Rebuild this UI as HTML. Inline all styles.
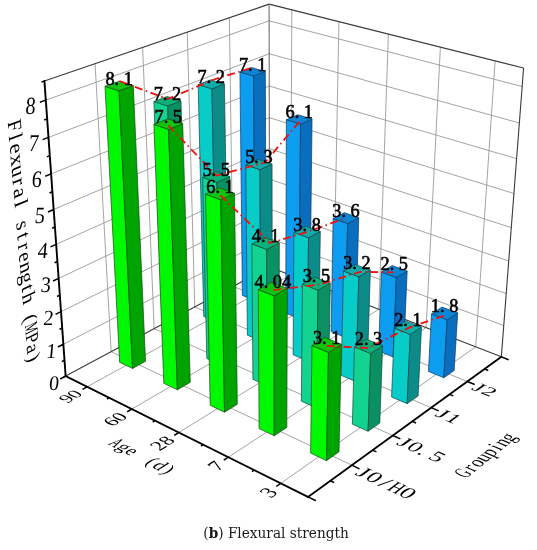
<!DOCTYPE html>
<html><head><meta charset="utf-8"><style>html,body{margin:0;padding:0;background:#fff;width:537px;height:550px;overflow:hidden}svg{display:block}.t{font-family:"Liberation Serif",serif}.c{font-family:"DejaVu Serif","Liberation Serif",serif}</style></head>
<body><svg width="537" height="550" viewBox="0 0 537 550"><g stroke="#9a9a9a" stroke-width="0.9"><line x1="63.37" y1="344.23" x2="269.54" y2="238.18" /><line x1="269.54" y1="238.18" x2="503.75" y2="325.58" /><line x1="61.02" y1="311.66" x2="269.48" y2="208.92" /><line x1="269.48" y1="208.92" x2="506.21" y2="293.64" /><line x1="58.63" y1="278.37" x2="269.42" y2="179.09" /><line x1="269.42" y1="179.09" x2="508.72" y2="261" /><line x1="56.18" y1="244.33" x2="269.37" y2="148.68" /><line x1="269.37" y1="148.68" x2="511.29" y2="227.64" /><line x1="53.67" y1="209.51" x2="269.31" y2="117.67" /><line x1="269.31" y1="117.67" x2="513.92" y2="193.54" /><line x1="51.11" y1="173.88" x2="269.25" y2="86.04" /><line x1="269.25" y1="86.04" x2="516.61" y2="158.68" /><line x1="48.48" y1="137.42" x2="269.18" y2="53.78" /><line x1="269.18" y1="53.78" x2="519.35" y2="123.01" /><line x1="45.8" y1="100.1" x2="269.12" y2="20.85" /><line x1="269.12" y1="20.85" x2="522.16" y2="86.53" /><line x1="111.18" y1="351.71" x2="95.09" y2="63.74" /><line x1="351.81" y1="465.19" x2="111.18" y2="351.71" /><line x1="154.14" y1="328.71" x2="142.63" y2="47.46" /><line x1="392.78" y1="435.51" x2="154.14" y2="328.71" /><line x1="194.74" y1="306.97" x2="187.31" y2="32.15" /><line x1="431.21" y1="407.67" x2="194.74" y2="306.97" /><line x1="233.17" y1="286.4" x2="229.39" y2="17.74" /><line x1="467.33" y1="381.5" x2="233.17" y2="286.4" /><line x1="475.67" y1="346.89" x2="495.13" y2="60.83" /><line x1="280.76" y1="483.3" x2="475.67" y2="346.89" /><line x1="426.12" y1="327.66" x2="440.4" y2="47.1" /><line x1="228.4" y1="457.2" x2="426.12" y2="327.66" /><line x1="378.85" y1="309.3" x2="388.4" y2="34.06" /><line x1="178.82" y1="432.49" x2="378.85" y2="309.3" /><line x1="333.68" y1="291.77" x2="338.93" y2="21.66" /><line x1="131.8" y1="409.05" x2="333.68" y2="291.77" /><line x1="290.49" y1="275.01" x2="291.82" y2="9.84" /><line x1="87.15" y1="386.8" x2="290.49" y2="275.01" /></g><g stroke="#3a3a3a" stroke-width="1.1"><line x1="44.43" y1="81.1" x2="269.09" y2="4.14" /><line x1="269.09" y1="4.14" x2="523.59" y2="67.97" /><line x1="523.59" y1="67.97" x2="501.34" y2="356.85" /><line x1="65.66" y1="376.08" x2="269.59" y2="266.89" /><line x1="269.59" y1="266.89" x2="501.34" y2="356.85" /></g><line x1="269.09" y1="4.14" x2="269.59" y2="266.89" stroke="#6e6e6e" stroke-width="1.1"/><g stroke="#000" stroke-width="1.9" stroke-linecap="square"><line x1="65.66" y1="376.08" x2="44.43" y2="81.1" /><line x1="65.66" y1="376.08" x2="308.05" y2="496.9" /><line x1="308.05" y1="496.9" x2="501.34" y2="356.85" /></g><g stroke="#000" stroke-width="1.5"><line x1="65.66" y1="376.08" x2="60.26" y2="378.98" /><line x1="64.52" y1="360.24" x2="61.81" y2="361.67" /><line x1="63.37" y1="344.23" x2="57.9" y2="347.04" /><line x1="62.2" y1="328.03" x2="59.45" y2="329.42" /><line x1="61.02" y1="311.66" x2="55.49" y2="314.39" /><line x1="59.83" y1="295.11" x2="57.05" y2="296.45" /><line x1="58.63" y1="278.37" x2="53.02" y2="281.01" /><line x1="57.41" y1="261.45" x2="54.59" y2="262.74" /><line x1="56.18" y1="244.33" x2="50.5" y2="246.88" /><line x1="54.93" y1="227.02" x2="52.08" y2="228.26" /><line x1="53.67" y1="209.51" x2="47.92" y2="211.96" /><line x1="52.4" y1="191.8" x2="49.51" y2="192.99" /><line x1="51.11" y1="173.88" x2="45.28" y2="176.23" /><line x1="49.8" y1="155.76" x2="46.87" y2="156.9" /><line x1="48.48" y1="137.42" x2="42.57" y2="139.66" /><line x1="47.15" y1="118.87" x2="44.18" y2="119.96" /><line x1="45.8" y1="100.1" x2="39.81" y2="102.22" /><line x1="44.43" y1="81.1" x2="41.42" y2="82.13" /><line x1="280.76" y1="483.3" x2="276.19" y2="486.5" /><line x1="254.22" y1="470.07" x2="251.92" y2="471.62" /><line x1="228.4" y1="457.2" x2="223.79" y2="460.23" /><line x1="203.28" y1="444.68" x2="200.97" y2="446.15" /><line x1="178.82" y1="432.49" x2="174.17" y2="435.36" /><line x1="155.01" y1="420.62" x2="152.68" y2="422.01" /><line x1="131.8" y1="409.05" x2="127.13" y2="411.77" /><line x1="109.19" y1="397.78" x2="106.85" y2="399.11" /><line x1="87.15" y1="386.8" x2="82.46" y2="389.38" /><line x1="65.66" y1="376.08" x2="63.31" y2="377.34" /><line x1="308.05" y1="496.9" x2="315.83" y2="500.78" /><line x1="330.3" y1="480.78" x2="334.16" y2="482.65" /><line x1="351.81" y1="465.19" x2="359.51" y2="468.82" /><line x1="372.63" y1="450.11" x2="376.45" y2="451.86" /><line x1="392.78" y1="435.51" x2="400.38" y2="438.91" /><line x1="412.3" y1="421.37" x2="416.07" y2="423.01" /><line x1="431.21" y1="407.67" x2="438.71" y2="410.86" /><line x1="449.55" y1="394.38" x2="453.26" y2="395.93" /><line x1="467.33" y1="381.5" x2="474.73" y2="384.5" /><line x1="484.59" y1="368.99" x2="488.26" y2="370.45" /><line x1="501.34" y1="356.85" x2="508.64" y2="359.69" /></g><g stroke="#1e3a1e" stroke-width="0.7" stroke-linejoin="round"><g stroke="#0c3a62"><polygon points="331.05,331.62 344.99,337.32 347.67,223.56 333.17,218.47" fill="#0c9cf0"/><polygon points="344.99,337.32 355.67,330.68 358.74,217.64 347.67,223.56" fill="#0a6ebe"/><polygon points="347.67,223.56 358.74,217.64 344.29,212.64 333.17,218.47" fill="#0b86d6"/></g><g stroke="#0c3a62"><polygon points="378.58,351.06 393.2,357.04 396.39,277.54 381.35,271.99" fill="#0c9cf0"/><polygon points="393.2,357.04 403.73,350.07 407.18,271.08 396.39,277.54" fill="#0a6ebe"/><polygon points="396.39,277.54 407.18,271.08 392.19,265.62 381.35,271.99" fill="#0b86d6"/></g><g stroke="#0c3a62"><polygon points="242.39,295.38 255.1,300.57 253.58,76.05 239.93,72.08" fill="#0c9cf0"/><polygon points="255.1,300.57 266.03,294.52 265.33,71.45 253.58,76.05" fill="#0a6ebe"/><polygon points="253.58,76.05 265.33,71.45 251.71,67.55 239.93,72.08" fill="#0b86d6"/></g><g stroke="#0c3a62"><polygon points="428.45,371.45 443.81,377.73 447.15,319.89 431.47,313.93" fill="#0c9cf0"/><polygon points="443.81,377.73 454.16,370.41 457.68,312.94 447.15,319.89" fill="#0a6ebe"/><polygon points="447.15,319.89 457.68,312.94 442.06,307.08 431.47,313.93" fill="#0b86d6"/></g><g stroke="#0c3a62"><polygon points="285.7,313.08 299.01,318.52 300.55,124.11 286.37,119.73" fill="#0c9cf0"/><polygon points="299.01,318.52 309.82,312.19 312.05,119.04 300.55,124.11" fill="#0a6ebe"/><polygon points="300.55,124.11 312.05,119.04 297.91,114.74 286.37,119.73" fill="#0b86d6"/></g><g stroke="#0c4646"><polygon points="293.12,354.78 307.19,360.81 308.53,237.77 293.86,232.41" fill="#08ccc8"/><polygon points="307.19,360.81 318.51,353.78 320.31,231.54 308.53,237.77" fill="#0b8c88"/><polygon points="308.53,237.77 320.31,231.54 305.68,226.27 293.86,232.41" fill="#0eacaa"/></g><g stroke="#0c4646"><polygon points="247.38,335.16 260.79,340.91 259.95,169.65 245.77,164.85" fill="#08ccc8"/><polygon points="260.79,340.91 272.23,334.21 272.05,164.08 259.95,169.65" fill="#0b8c88"/><polygon points="259.95,169.65 272.05,164.08 257.91,159.35 245.77,164.85" fill="#0eacaa"/></g><g stroke="#0c4646"><polygon points="203.75,316.45 216.55,321.94 211.93,88.81 198.17,84.62" fill="#08ccc8"/><polygon points="216.55,321.94 228.09,315.54 224.41,83.96 211.93,88.81" fill="#0b8c88"/><polygon points="211.93,88.81 224.41,83.96 210.67,79.85 198.17,84.62" fill="#0eacaa"/></g><g stroke="#0c4646"><polygon points="341.13,375.36 355.91,381.7 358.81,276.86 343.48,271.1" fill="#08ccc8"/><polygon points="355.91,381.7 367.08,374.31 370.36,270.16 358.81,276.86" fill="#0b8c88"/><polygon points="358.81,276.86 370.36,270.16 355.08,264.5 343.48,271.1" fill="#0eacaa"/></g><g stroke="#0c4646"><polygon points="391.58,397 407.12,403.67 410.28,334.45 394.34,328.16" fill="#08ccc8"/><polygon points="407.12,403.67 418.12,395.89 421.51,327.13 410.28,334.45" fill="#0b8c88"/><polygon points="410.28,334.45 421.51,327.13 405.63,320.95 394.34,328.16" fill="#0eacaa"/></g><g stroke="#0c4a36"><polygon points="206.82,358.53 220.33,364.62 216.9,182.41 202.58,177.34" fill="#12d490"/><polygon points="220.33,364.62 232.45,357.52 229.8,176.53 216.9,182.41" fill="#0a9062"/><polygon points="216.9,182.41 229.8,176.53 215.51,171.55 202.58,177.34" fill="#0eb07a"/></g><g stroke="#0c4a36"><polygon points="162.91,338.73 175.78,344.54 167.72,105.98 153.87,101.53" fill="#12d490"/><polygon points="175.78,344.54 187.99,337.77 180.98,100.83 167.72,105.98" fill="#0a9062"/><polygon points="167.72,105.98 180.98,100.83 167.15,96.46 153.87,101.53" fill="#0eb07a"/></g><g stroke="#0c4a36"><polygon points="252.92,379.32 267.11,385.72 266.72,249.48 251.87,243.84" fill="#12d490"/><polygon points="267.11,385.72 279.13,378.25 279.3,242.92 266.72,249.48" fill="#0a9062"/><polygon points="266.72,249.48 279.3,242.92 264.48,237.38 251.87,243.84" fill="#0eb07a"/></g><g stroke="#0c4a36"><polygon points="352.37,424.16 368.1,431.25 370.62,353.54 354.45,346.88" fill="#12d490"/><polygon points="368.1,431.25 379.81,422.98 382.62,345.78 370.62,353.54" fill="#0a9062"/><polygon points="370.62,353.54 382.62,345.78 366.5,339.24 354.45,346.88" fill="#0eb07a"/></g><g stroke="#0c4a36"><polygon points="301.37,401.16 316.31,407.9 317.98,290.2 302.42,284.13" fill="#12d490"/><polygon points="316.31,407.9 328.18,400.04 330.32,283.13 317.98,290.2" fill="#0a9062"/><polygon points="317.98,290.2 330.32,283.13 314.81,277.17 302.42,284.13" fill="#0eb07a"/></g><g stroke="#124a12"><polygon points="119.65,362.32 132.59,368.47 119.03,90.83 104.97,86.31" fill="#00f800"/><polygon points="132.59,368.47 145.53,361.3 133.31,85.6 119.03,90.83" fill="#00a400"/><polygon points="119.03,90.83 133.31,85.6 119.28,81.17 104.97,86.31" fill="#10c410"/></g><g stroke="#124a12"><polygon points="259.09,428.6 274.17,435.77 274.11,295.83 258.3,289.47" fill="#00f800"/><polygon points="274.17,435.77 286.82,427.41 287.37,288.42 274.11,295.83" fill="#00a400"/><polygon points="274.11,295.83 287.37,288.42 271.61,282.18 258.3,289.47" fill="#10c410"/></g><g stroke="#124a12"><polygon points="310.61,453.09 326.52,460.66 328.48,352.43 311.95,345.48" fill="#00f800"/><polygon points="326.52,460.66 339.01,451.83 341.42,344.34 328.48,352.43" fill="#00a400"/><polygon points="328.48,352.43 341.42,344.34 324.94,337.53 311.95,345.48" fill="#10c410"/></g><g stroke="#124a12"><polygon points="163.8,383.31 177.4,389.77 168.61,129.38 153.87,124.46" fill="#00f800"/><polygon points="177.4,389.77 190.27,382.23 182.7,123.68 168.61,129.38" fill="#00a400"/><polygon points="168.61,129.38 182.7,123.68 167.99,118.85 153.87,124.46" fill="#10c410"/></g><g stroke="#124a12"><polygon points="210.22,405.37 224.53,412.18 220.78,199.74 205.45,194.19" fill="#00f800"/><polygon points="224.53,412.18 237.31,404.24 234.52,193.29 220.78,199.74" fill="#00a400"/><polygon points="220.78,199.74 234.52,193.29 219.23,187.85 205.45,194.19" fill="#10c410"/></g></g><g fill="none" stroke="#f01010" stroke-width="1.8" stroke-dasharray="8 3.5 1.5 3.5"><polyline points="119.5,81 167.5,99 214,79.5 251,68"/><polyline points="168.3,125.5 216.5,175.5 265,162.5 299.3,121.8"/><polyline points="220.4,195.4 270,243 307,232 346,218"/><polyline points="273.5,290.2 320,284.3 360,271.9 393.5,272.3"/><polyline points="327,345.9 367.5,348 410.3,327.2 446,315"/></g><g class="t" fill="#000"><g stroke="#000" stroke-width="0.6"><text x="312.97" y="343.71" font-size="18.3">3</text><text x="322.12" y="343.71" font-size="18.3">.</text><text x="331.27" y="343.71" font-size="18.3">1</text></g><g stroke="#000" stroke-width="0.6"><text x="354.82" y="345.13" font-size="18.3">2</text><text x="363.97" y="345.13" font-size="18.3">.</text><text x="373.12" y="345.13" font-size="18.3">3</text></g><g stroke="#000" stroke-width="0.6"><text x="394.21" y="326.44" font-size="18.3">2</text><text x="403.36" y="326.44" font-size="18.3">.</text><text x="412.51" y="326.44" font-size="18.3">1</text></g><g stroke="#000" stroke-width="0.6"><text x="430.86" y="312.23" font-size="18.3">1</text><text x="440.01" y="312.23" font-size="18.3">.</text><text x="449.16" y="312.23" font-size="18.3">8</text></g><g stroke="#000" stroke-width="0.6"><text x="254.55" y="287.74" font-size="18.3">4</text><text x="263.70" y="287.74" font-size="18.3">.</text><text x="272.85" y="287.74" font-size="18.3">0</text><text x="282.00" y="287.74" font-size="18.3">4</text></g><g stroke="#000" stroke-width="0.6"><text x="302.66" y="282.43" font-size="18.3">3</text><text x="311.81" y="282.43" font-size="18.3">.</text><text x="320.96" y="282.43" font-size="18.3">5</text></g><g stroke="#000" stroke-width="0.6"><text x="343.20" y="269.43" font-size="18.3">3</text><text x="352.35" y="269.43" font-size="18.3">.</text><text x="361.50" y="269.43" font-size="18.3">2</text></g><g stroke="#000" stroke-width="0.6"><text x="380.55" y="270.33" font-size="18.3">2</text><text x="389.70" y="270.33" font-size="18.3">.</text><text x="398.85" y="270.33" font-size="18.3">5</text></g><g stroke="#000" stroke-width="0.6"><text x="206.27" y="192.54" font-size="18.3">6</text><text x="215.42" y="192.54" font-size="18.3">.</text><text x="224.57" y="192.54" font-size="18.3">1</text></g><g stroke="#000" stroke-width="0.6"><text x="251.87" y="242.18" font-size="18.3">4</text><text x="261.02" y="242.18" font-size="18.3">.</text><text x="270.17" y="242.18" font-size="18.3">1</text></g><g stroke="#000" stroke-width="0.6"><text x="293.37" y="230.78" font-size="18.3">3</text><text x="302.52" y="230.78" font-size="18.3">.</text><text x="311.67" y="230.78" font-size="18.3">8</text></g><g stroke="#000" stroke-width="0.6"><text x="332.24" y="216.86" font-size="18.3">3</text><text x="341.39" y="216.86" font-size="18.3">.</text><text x="350.54" y="216.86" font-size="18.3">6</text></g><g stroke="#000" stroke-width="0.6"><text x="154.57" y="122.87" font-size="18.3">7</text><text x="163.72" y="122.87" font-size="18.3">.</text><text x="172.87" y="122.87" font-size="18.3">5</text></g><g stroke="#000" stroke-width="0.6"><text x="202.47" y="175.73" font-size="18.3">5</text><text x="211.62" y="175.73" font-size="18.3">.</text><text x="220.77" y="175.73" font-size="18.3">5</text></g><g stroke="#000" stroke-width="0.6"><text x="245.19" y="163.26" font-size="18.3">5</text><text x="254.34" y="163.26" font-size="18.3">.</text><text x="263.49" y="163.26" font-size="18.3">3</text></g><g stroke="#000" stroke-width="0.6"><text x="285.50" y="118.19" font-size="18.3">6</text><text x="294.65" y="118.19" font-size="18.3">.</text><text x="303.80" y="118.19" font-size="18.3">1</text></g><g stroke="#000" stroke-width="0.6"><text x="105.43" y="84.76" font-size="18.3">8</text><text x="114.58" y="84.76" font-size="18.3">.</text><text x="123.73" y="84.76" font-size="18.3">1</text></g><g stroke="#000" stroke-width="0.6"><text x="153.71" y="99.98" font-size="18.3">7</text><text x="162.86" y="99.98" font-size="18.3">.</text><text x="172.01" y="99.98" font-size="18.3">2</text></g><g stroke="#000" stroke-width="0.6"><text x="197.57" y="83.09" font-size="18.3">7</text><text x="206.72" y="83.09" font-size="18.3">.</text><text x="215.87" y="83.09" font-size="18.3">2</text></g><g stroke="#000" stroke-width="0.6"><text x="238.91" y="70.56" font-size="18.3">7</text><text x="248.06" y="70.56" font-size="18.3">.</text><text x="257.21" y="70.56" font-size="18.3">1</text></g><text transform="matrix(0.8343 -0.4618 0.7678 0.3947 67.18 403.62)" font-size="20">9</text><text transform="matrix(0.8255 -0.4569 0.7674 0.3906 75.48 399.03)" font-size="20">0</text><text transform="matrix(0.8317 -0.4866 0.8088 0.4158 112.21 426.77)" font-size="20">6</text><text transform="matrix(0.8227 -0.4814 0.8082 0.4113 120.48 421.93)" font-size="20">0</text><text transform="matrix(0.8275 -0.5135 0.8531 0.4386 159.68 451.17)" font-size="20">2</text><text transform="matrix(0.8183 -0.5078 0.8522 0.4337 167.90 446.07)" font-size="20">8</text><text transform="matrix(0.8122 -0.5364 0.9000 0.4581 217.95 471.54)" font-size="20">7</text><text transform="matrix(0.8041 -0.5676 0.9519 0.4845 270.84 498.46)" font-size="20">3</text><text transform="matrix(1.0788 0.5131 -0.8104 0.5939 354.10 474.21)" font-size="20">J</text><text transform="matrix(1.0893 0.5180 -0.8082 0.5997 363.74 478.80)" font-size="20">0</text><text transform="matrix(1.1039 0.5250 -0.8050 0.6078 377.14 485.17)" font-size="20">/</text><text transform="matrix(0.7555 0.3593 -0.8028 0.6131 385.88 489.32)" font-size="20">H</text><text transform="matrix(1.1256 0.5353 -0.8000 0.6199 396.96 494.60)" font-size="20">0</text><text transform="matrix(1.0656 0.4807 -0.7589 0.5562 395.38 443.96)" font-size="20">J</text><text transform="matrix(1.0756 0.4852 -0.7566 0.5614 404.90 448.26)" font-size="20">0</text><text transform="matrix(1.0869 0.4903 -0.7539 0.5674 415.71 453.13)" font-size="20">.</text><text transform="matrix(1.0985 0.4955 -0.7511 0.5735 426.64 458.06)" font-size="20">5</text><text transform="matrix(1.0519 0.4513 -0.7122 0.5220 434.08 415.60)" font-size="20">J</text><text transform="matrix(1.0614 0.4554 -0.7098 0.5267 443.47 419.63)" font-size="20">1</text><text transform="matrix(1.0378 0.4245 -0.6697 0.4908 470.43 388.96)" font-size="20">J</text><text transform="matrix(1.0470 0.4283 -0.6673 0.4951 479.69 392.75)" font-size="20">2</text><text transform="matrix(0.5259 0.2763 -0.8133 0.4835 107.49 443.90)" font-size="20">A</text><text transform="matrix(0.7820 0.4108 -0.8127 0.4878 115.20 447.95)" font-size="20">g</text><text transform="matrix(0.7894 0.4146 -0.8121 0.4925 123.49 452.31)" font-size="20">e</text><text transform="matrix(0.8081 0.4245 -0.8103 0.5042 144.35 463.27)" font-size="20">(</text><text transform="matrix(0.8142 0.4277 -0.8097 0.5081 151.10 466.81)" font-size="20">d</text><text transform="matrix(0.8229 0.4323 -0.8088 0.5136 160.66 471.83)" font-size="20">)</text><text transform="matrix(0.4575 -0.3692 1.0121 0.4580 465.99 478.70)" font-size="20">G</text><text transform="matrix(0.6654 -0.5369 1.0091 0.4519 473.74 472.45)" font-size="20">r</text><text transform="matrix(0.6590 -0.5318 1.0069 0.4477 479.26 468.00)" font-size="20">o</text><text transform="matrix(0.6516 -0.5258 1.0043 0.4426 485.81 462.71)" font-size="20">u</text><text transform="matrix(0.6442 -0.5199 1.0017 0.4377 492.29 457.48)" font-size="20">p</text><text transform="matrix(0.6354 -0.5128 0.9984 0.4317 500.11 451.17)" font-size="20">i</text><text transform="matrix(0.6299 -0.5083 0.9964 0.4280 505.03 447.20)" font-size="20">n</text><text transform="matrix(0.6229 -0.5027 0.9937 0.4233 511.30 442.14)" font-size="20">g</text><text transform="matrix(1.0 0 -0.1 1.030 48.58 389.68)" font-size="20">0</text><text transform="matrix(1.0 0 -0.1 1.056 45.82 357.83)" font-size="20">1</text><text transform="matrix(1.0 0 -0.1 1.082 43.01 325.26)" font-size="20">2</text><text transform="matrix(1.0 0 -0.1 1.108 40.15 291.97)" font-size="20">3</text><text transform="matrix(1.0 0 -0.1 1.134 37.23 257.93)" font-size="20">4</text><text transform="matrix(1.0 0 -0.1 1.160 34.26 223.11)" font-size="20">5</text><text transform="matrix(1.0 0 -0.1 1.186 31.22 187.48)" font-size="20">6</text><text transform="matrix(1.0 0 -0.1 1.212 28.13 151.02)" font-size="20">7</text><text transform="matrix(1.0 0 -0.1 1.238 24.98 113.70)" font-size="20">8</text><text transform="matrix(0.0853 1.0094 -0.9789 0.3526 7.68 122.32)" font-size="20">F</text><text transform="matrix(0.0960 1.1357 -0.9739 0.3593 8.85 136.14)" font-size="20">l</text><text transform="matrix(0.0954 1.1289 -0.9705 0.3639 9.65 145.59)" font-size="20">e</text><text transform="matrix(0.0947 1.1213 -0.9667 0.3690 10.55 156.21)" font-size="20">x</text><text transform="matrix(0.0941 1.1133 -0.9627 0.3743 11.49 167.38)" font-size="20">u</text><text transform="matrix(0.0933 1.1041 -0.9580 0.3804 12.58 180.32)" font-size="20">r</text><text transform="matrix(0.0927 1.0972 -0.9545 0.3850 13.41 190.11)" font-size="20">a</text><text transform="matrix(0.0920 1.0882 -0.9500 0.3909 14.49 202.85)" font-size="20">l</text><text transform="matrix(0.0907 1.0738 -0.9427 0.4002 16.21 223.26)" font-size="20">s</text><text transform="matrix(0.0900 1.0655 -0.9385 0.4056 17.22 235.15)" font-size="20">t</text><text transform="matrix(0.0894 1.0585 -0.9349 0.4100 18.06 245.19)" font-size="20">r</text><text transform="matrix(0.0889 1.0520 -0.9316 0.4142 18.86 254.57)" font-size="20">e</text><text transform="matrix(0.0883 1.0452 -0.9280 0.4185 19.69 264.47)" font-size="20">n</text><text transform="matrix(0.0877 1.0380 -0.9243 0.4231 20.57 274.88)" font-size="20">g</text><text transform="matrix(0.0870 1.0293 -0.9199 0.4285 21.64 287.51)" font-size="20">t</text><text transform="matrix(0.0865 1.0239 -0.9170 0.4319 22.32 295.50)" font-size="20">h</text><text transform="matrix(0.0852 1.0089 -0.9092 0.4412 24.18 317.52)" font-size="20">(</text><text transform="matrix(0.0467 0.5528 -0.9062 0.4447 24.89 326.00)" font-size="20">M</text><text transform="matrix(0.0742 0.8778 -0.9027 0.4488 25.74 336.00)" font-size="20">P</text><text transform="matrix(0.0836 0.9894 -0.8990 0.4530 26.62 346.39)" font-size="20">a</text><text transform="matrix(0.0830 0.9820 -0.8952 0.4575 27.54 357.34)" font-size="20">)</text></g><text class="c" x="203.3" y="538.2" font-size="14.4" textLength="145.5" lengthAdjust="spacingAndGlyphs" fill="#1a1a1a">(<tspan font-weight="bold">b</tspan>) Flexural strength</text></svg></body></html>
